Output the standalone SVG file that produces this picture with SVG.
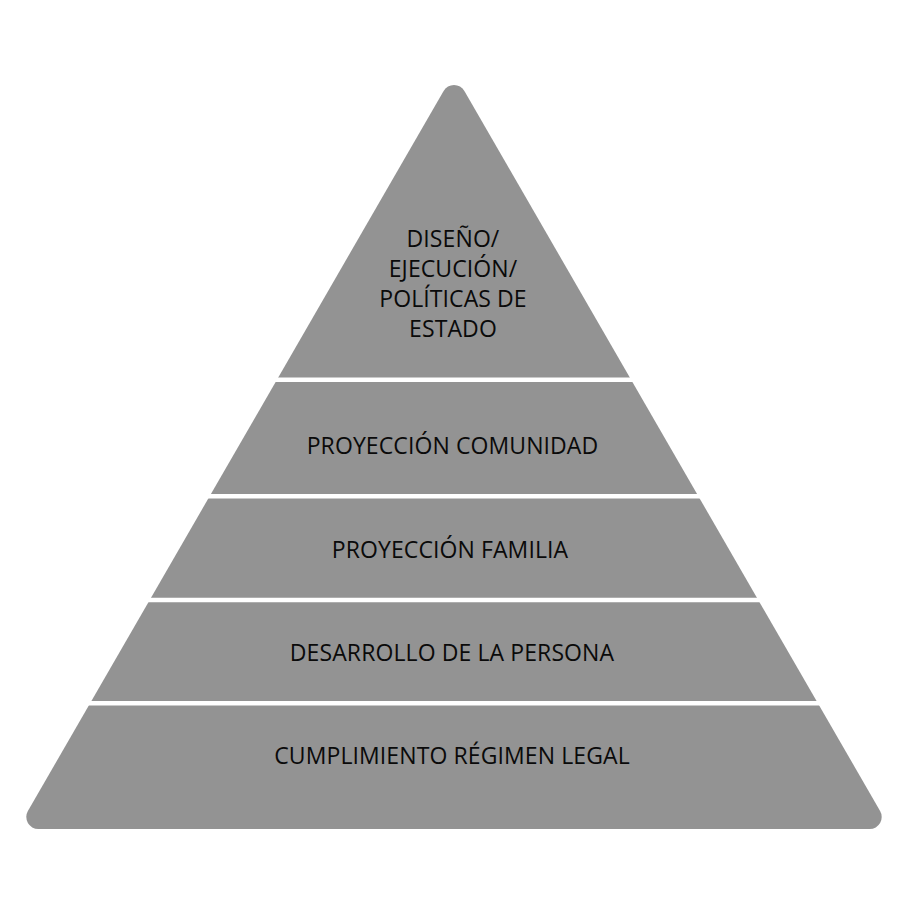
<svg xmlns="http://www.w3.org/2000/svg" width="908" height="908" viewBox="0 0 908 908">
<style>
.lbl{font-family:"Open Sans","Noto Sans","Liberation Sans",sans-serif;font-size:23px;fill:#0a0a0a;text-anchor:middle;letter-spacing:0.1px}
.gap{stroke:#fff;stroke-width:4.4}
</style>
<rect width="908" height="908" fill="#fff"/>
<g id="pyramid">
<path d="M443.61,91 A12,12 0 0 1 464.39,91 L880.11,811 A12,12 0 0 1 869.72,829 L38.28,829 A12,12 0 0 1 27.89,811 Z" fill="#939393"/>
</g>
<g id="separators">
<line class="gap" x1="0" y1="379.7" x2="908" y2="379.7"/>
<line class="gap" x1="0" y1="496.2" x2="908" y2="496.2"/>
<line class="gap" x1="0" y1="600" x2="908" y2="600"/>
<line class="gap" x1="0" y1="703.2" x2="908" y2="703.2"/>
</g>
<g id="level5">
<text class="lbl" x="453" y="247">DISEÑO/</text>
<text class="lbl" x="453" y="277">EJECUCIÓN/</text>
<text class="lbl" x="453" y="307">POLÍTICAS DE</text>
<text class="lbl" x="453" y="337">ESTADO</text>
</g>
<g id="level4"><text class="lbl" x="452.5" y="454">PROYECCIÓN COMUNIDAD</text></g>
<g id="level3"><text class="lbl" x="450" y="558">PROYECCIÓN FAMILIA</text></g>
<g id="level2"><text class="lbl" x="452" y="661">DESARROLLO DE LA PERSONA</text></g>
<g id="level1"><text class="lbl" x="452" y="764">CUMPLIMIENTO RÉGIMEN LEGAL</text></g>
</svg>
